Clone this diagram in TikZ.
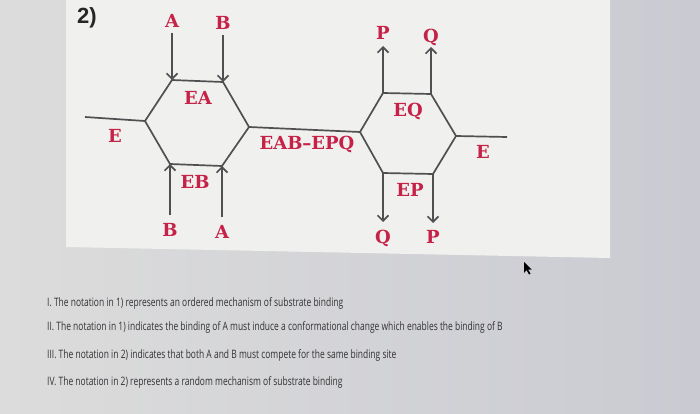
\documentclass[tikz,border=0pt]{standalone}
\usepackage{fontspec}
\usetikzlibrary{arrows.meta,positioning}
\newfontfamily\numbersans{Liberation Sans}
\newfontfamily\notesans{Open Sans}
\newfontfamily\speciesserif[Ligatures=TeX]{DejaVu Serif}
\definecolor{speciesred}{RGB}{198,34,72}
\definecolor{bondgray}{RGB}{80,80,82}
\definecolor{panelwhite}{RGB}{240,240,238}
\definecolor{screenleft}{RGB}{220,220,220}
\definecolor{screenright}{RGB}{202,203,210}
\definecolor{notegray}{RGB}{50,50,52}
\newcommand{\squeezed}[1]{\scalebox{0.73}[1]{#1}}
\tikzset{
  bond/.style={draw=bondgray, line width=1.7pt},
  arrowbond/.style={bond, -{Straight Barb[length=5.5pt,width=11pt]}},
  species/.style={text=speciesred, font=\speciesserif\bfseries\fontsize{18}{20}\selectfont,
    inner sep=1pt, text height=12.5pt, text depth=0pt},
  statement/.style={text=notegray, font=\notesans\fontsize{11.6}{13}\selectfont,
    anchor=west, inner sep=0pt},
}

\begin{document}
\begin{tikzpicture}[x=1pt,y=-1pt]
    \shade[left color=screenleft, right color=screenright] (0,0) rectangle (700,414); % screen
    \useasboundingbox (0,0) rectangle (700,414);
    \fill[panelwhite] (66,0) -- (610,0) -- (610,258) -- (66,247) -- cycle; % picture panel
    \node[font=\numbersans\bfseries\fontsize{22}{24}\selectfont, text=black!85] (num) at (87,18) {2)};
    % left hexagon (A and B bind)
    \coordinate (ltl) at (172,80);
    \coordinate (ltr) at (223,82);
    \coordinate (lw) at (145,121);
    \coordinate (le) at (249,127);
    \coordinate (lbl) at (170,164);
    \coordinate (lbr) at (222,166);
    % right hexagon (P and Q leave)
    \coordinate (rtl) at (383,93);
    \coordinate (rtr) at (431,94);
    \coordinate (rw) at (360,132);
    \coordinate (re) at (456,136);
    \coordinate (rbl) at (383,173);
    \coordinate (rbr) at (433,174);
    \coordinate (Ein) at (85,117); % free end, E in
    \coordinate (Eout) at (507,137); % free end, E out
    \draw[bond] (ltl) -- (ltr) -- (le) -- (lbr) -- (lbl) -- (lw) -- cycle;
    \draw[bond] (rtl) -- (rtr) -- (re) -- (rbr) -- (rbl) -- (rw) -- cycle;
    \draw[bond] (Ein) -- (lw);
    \draw[bond] (le) -- (rw);
    \draw[bond] (re) -- (Eout);
    % substrates and products
    \node[species, above=51pt of ltl] (Atop) {A};
    \node[species, above=51pt of ltr] (Btop) {B};
    \node[species, below=59pt of lbl] (Bbot) {B};
    \node[species, below=59pt of lbr] (Abot) {A};
    \node[species, above=52pt of rtl] (Ptop) {P};
    \node[species, above=50pt of rtr] (Qtop) {Q};
    \node[species, below=57pt of rbl] (Qbot) {Q};
    \node[species, below=56pt of rbr] (Pbot) {P};
    \draw[arrowbond, shorten <=4pt] (Atop) -- (ltl);
    \draw[arrowbond, shorten <=4pt] (Btop) -- (ltr);
    \draw[arrowbond, shorten <=8pt] (Bbot) -- (lbl);
    \draw[arrowbond, shorten <=8pt] (Abot) -- (lbr);
    \draw[arrowbond, shorten >=5pt] (rtl) -- (Ptop);
    \draw[arrowbond, shorten >=3pt] (rtr) -- (Qtop);
    \draw[arrowbond, shorten >=8pt] (rbl) -- (Qbot);
    \draw[arrowbond, shorten >=7pt] (rbr) -- (Pbot);
    % complexes
    \node[species] (E1) at (115,136) {E};
    \node[species] (EA) at (198,98) {EA};
    \node[species] (EB) at (195,182) {EB};
    \node[species] (EABEPQ) at (307,143) {EAB--EPQ};
    \node[species] (EQ) at (408,110) {EQ};
    \node[species] (EP) at (410,190) {EP};
    \node[species] (E2) at (483,152) {E};
    \fill[black] (524,262) -- (524,273) -- (526.5,270) -- (529,274.5) -- (530.5,273.5) -- (528,269.5) -- (531.5,269.5) -- cycle; % mouse pointer
    % statements
    \node[statement] (s1) at (47,303) {\squeezed{I. The notation in 1) represents an ordered mechanism of substrate binding}};
    \node[statement] (s2) at (47,327) {\squeezed{II. The notation in 1) indicates the binding of A must induce a conformational change which enables the binding of B}};
    \node[statement] (s3) at (47,355) {\squeezed{III. The notation in 2) indicates that both A and B must compete for the same binding site}};
    \node[statement] (s4) at (47,382) {\squeezed{IV. The notation in 2) represents a random mechanism of substrate binding}};
\end{tikzpicture}
\end{document}
